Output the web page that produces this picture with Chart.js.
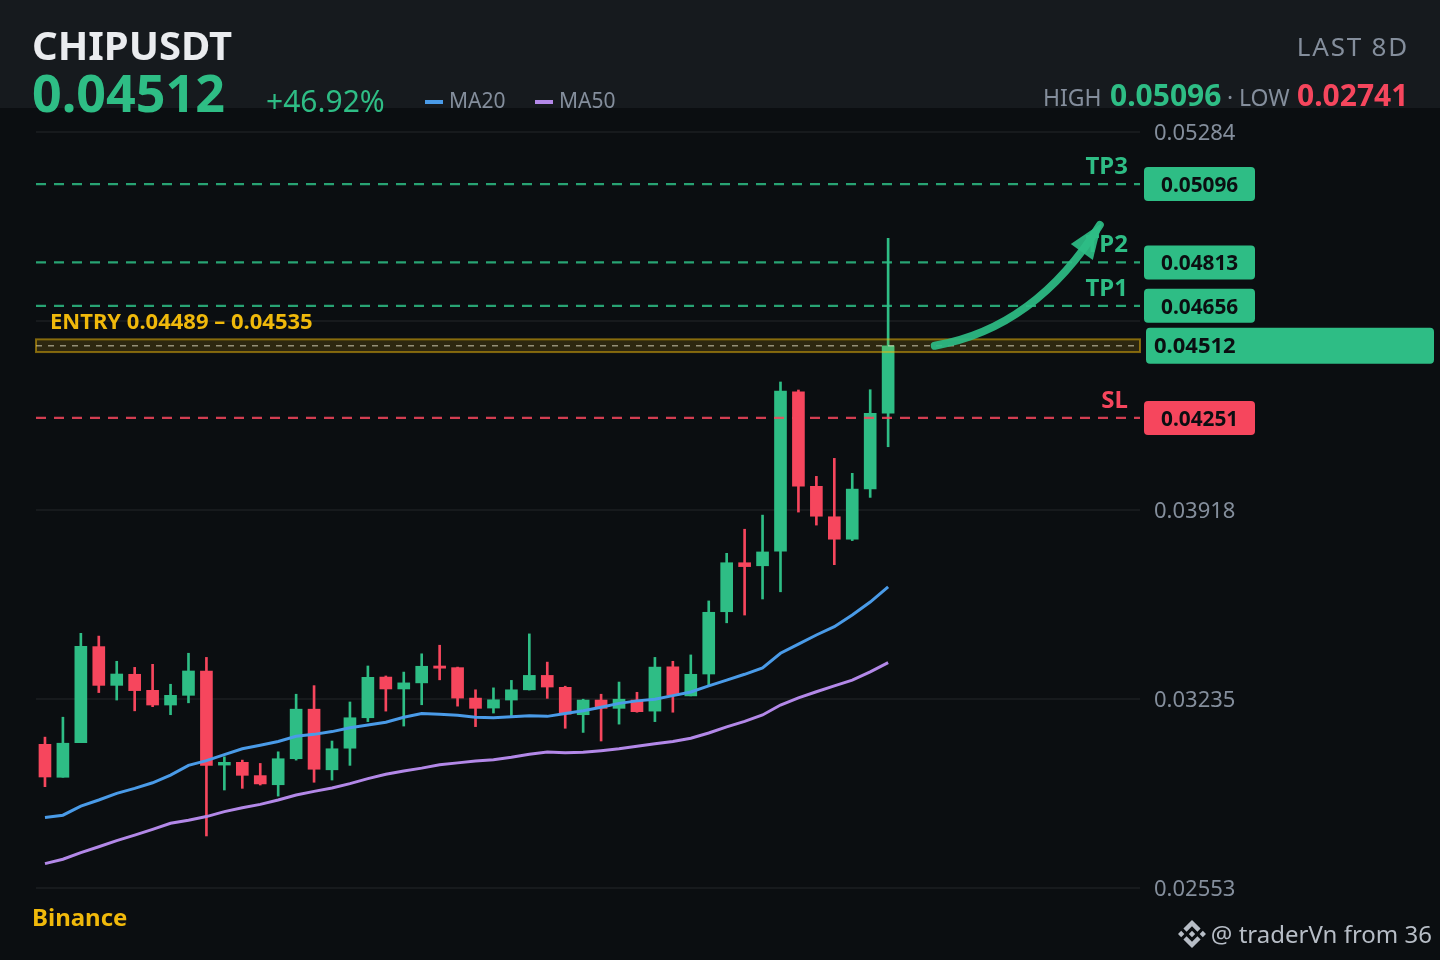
<!DOCTYPE html>
<html>
<head>
<meta charset="utf-8">
<title>CHIPUSDT</title>
<script src="https://cdn.jsdelivr.net/npm/chart.js@4"></script>
<style>
    html, body { margin: 0; padding: 0; background: #0b0e11; }
    body { width: 1440px; height: 960px; position: relative; overflow: hidden; font-family: "Noto Sans", sans-serif; }
    #band { position: absolute; left: 0; top: 0; width: 1440px; height: 108px; background: #161a1e; }
    #myChart { position: absolute; left: 0; top: 0; }
    .t { position: absolute; line-height: 1; white-space: nowrap; }
    .grey { color: #848e9c; }
    .green { color: #2ebd85; }
    .red { color: #f6465d; }
    .bold { font-weight: 700; }
    .swatch { position: absolute; width: 18px; height: 4px; }
</style>
</head>
<body>
<div id="band"></div>
<canvas id="myChart" width="1440" height="960"></canvas>

<div class="t bold" style="left:32px;top:25px;font-size:40px;color:#eaecef">CHIPUSDT</div>
<div class="t bold green" style="left:32px;top:66px;font-size:52px">0.04512</div>
<div class="t green" style="left:266px;top:86px;font-size:30px">+46.92%</div>
<div class="swatch" style="left:425px;top:100px;background:#4a9be8"></div>
<div class="t grey" style="left:449px;top:90px;font-size:21px">MA20</div>
<div class="swatch" style="left:535px;top:100px;background:#b388e8"></div>
<div class="t grey" style="left:559px;top:90px;font-size:21px">MA50</div>
<div class="t grey" style="right:31px;top:33px;font-size:26px;letter-spacing:1.8px">LAST 8D</div>
<div class="t grey" style="left:1043px;top:86px;font-size:23px">HIGH</div>
<div class="t green bold" style="left:1110px;top:80px;font-size:30px">0.05096</div>
<div class="t grey" style="left:1227px;top:86px;font-size:23px">·</div>
<div class="t grey" style="left:1239px;top:86px;font-size:23px">LOW</div>
<div class="t red bold" style="left:1297px;top:80px;font-size:30px">0.02741</div>
<div class="t bold" style="left:32px;top:905px;font-size:24px;color:#f0b90b">Binance</div>
<svg class="t" style="left:1178px;top:920px" width="28" height="28" viewBox="0 0 32 32" fill="#b7bdc6">
    <path d="M9.79 13.45 16 7.24l6.21 6.21 3.61-3.61L16 .03 6.18 9.84zM.03 16l3.61-3.61L7.25 16l-3.61 3.61zm9.76 2.55L16 24.76l6.21-6.21 3.61 3.61L16 31.97l-9.82-9.82zM24.75 16l3.61-3.61L31.97 16l-3.61 3.61zM19.66 16 16 12.34 13.3 15.05l-.31.31-.64.64L16 19.66z"/>
</svg>
<div class="t" style="right:8px;top:922px;font-size:24px;color:#b7bdc6">@ traderVn from 36</div>

<script>
// candles, one per 4h
var opens = [0.03072, 0.02953, 0.03078, 0.03425, 0.03285, 0.03325, 0.03267, 0.03214, 0.03249, 0.03337, 0.02997, 0.03007,
    0.02959, 0.02926, 0.03020, 0.03199, 0.02980, 0.03058, 0.03168, 0.03315, 0.03272, 0.03294, 0.03355, 0.03349,
    0.03239, 0.03203, 0.03232, 0.03269, 0.03321, 0.03278, 0.03179, 0.03232, 0.03202, 0.03232, 0.03192, 0.03352,
    0.03247, 0.03326, 0.03551, 0.03728, 0.03717, 0.03770, 0.04345, 0.04004, 0.03894, 0.03813, 0.03995, 0.04268];
var closes = [0.02954, 0.03076, 0.03426, 0.03285, 0.03326, 0.03266, 0.03214, 0.03249, 0.03337, 0.02996, 0.03007, 0.02960,
    0.02929, 0.03020, 0.03199, 0.02982, 0.03056, 0.03168, 0.03314, 0.03272, 0.03294, 0.03354, 0.03347, 0.03239,
    0.03202, 0.03233, 0.03269, 0.03321, 0.03279, 0.03181, 0.03232, 0.03202, 0.03235, 0.03190, 0.03351, 0.03249,
    0.03325, 0.03549, 0.03728, 0.03714, 0.03767, 0.04348, 0.04005, 0.03896, 0.03813, 0.03994, 0.04268, 0.04512];
var highs = [0.03098, 0.03170, 0.03473, 0.03463, 0.03372, 0.03350, 0.03361, 0.03289, 0.03401, 0.03386, 0.03027, 0.03015,
    0.03003, 0.03045, 0.03253, 0.03284, 0.03084, 0.03225, 0.03355, 0.03319, 0.03333, 0.03399, 0.03430, 0.03351,
    0.03269, 0.03276, 0.03303, 0.03471, 0.03369, 0.03282, 0.03235, 0.03253, 0.03297, 0.03260, 0.03386, 0.03372,
    0.03395, 0.03590, 0.03762, 0.03849, 0.03900, 0.04381, 0.04352, 0.04040, 0.04105, 0.04051, 0.04353, 0.04900];
var lows = [0.02919, 0.02953, 0.03078, 0.03259, 0.03232, 0.03193, 0.03208, 0.03179, 0.03222, 0.02741, 0.02907, 0.02913,
    0.02925, 0.02885, 0.03015, 0.02935, 0.02943, 0.02996, 0.03154, 0.03192, 0.03138, 0.03215, 0.03305, 0.03210,
    0.03136, 0.03185, 0.03172, 0.03268, 0.03238, 0.03130, 0.03115, 0.03084, 0.03145, 0.03188, 0.03154, 0.03188,
    0.03247, 0.03286, 0.03511, 0.03539, 0.03597, 0.03623, 0.03911, 0.03864, 0.03721, 0.03808, 0.03964, 0.04147];

var ma20 = [0.02808, 0.02816, 0.02849, 0.02871, 0.02895, 0.02913, 0.02933, 0.02961, 0.02996, 0.03013, 0.03035, 0.03056,
    0.03069, 0.03082, 0.03101, 0.03108, 0.03118, 0.03132, 0.03142, 0.03152, 0.03170, 0.03183, 0.03181, 0.03177,
    0.03170, 0.03168, 0.03172, 0.03175, 0.03173, 0.03183, 0.03193, 0.03206, 0.03220, 0.03229, 0.03235, 0.03248,
    0.03261, 0.03283, 0.03304, 0.03325, 0.03348, 0.03401, 0.03434, 0.03467, 0.03497, 0.03539, 0.03586, 0.03641];
var ma50 = [0.02641, 0.02657, 0.02681, 0.02702, 0.02724, 0.02744, 0.02765, 0.02787, 0.02798, 0.02811, 0.02829, 0.02843,
    0.02855, 0.02871, 0.02889, 0.02902, 0.02914, 0.02930, 0.02948, 0.02964, 0.02976, 0.02986, 0.02998, 0.03005,
    0.03012, 0.03016, 0.03025, 0.03036, 0.03044, 0.03042, 0.03043, 0.03049, 0.03056, 0.03065, 0.03074, 0.03082,
    0.03094, 0.03113, 0.03135, 0.03155, 0.03178, 0.03214, 0.03240, 0.03262, 0.03283, 0.03304, 0.03334, 0.03367];

var tickValues = [0.05284, 0.04601, 0.03918, 0.03235, 0.02553];
var levelNames = ['TP3', 'TP2', 'TP1', 'SL'];
var levelValues = [0.05096, 0.04813, 0.04656, 0.04251];
var lastPrice = 0.04512;
var entryLow = 0.04489;
var entryHigh = 0.04535;

var GREEN = '#2ebd85';
var RED = '#f6465d';
var FONT = '"Noto Sans", sans-serif';
var X_MIN = -0.5;
var X_MAX = 61.04;

function points(values) {
    return values.map(function (v, i) { return { x: i, y: v }; });
}
function hline(value) {
    return [{ x: X_MIN, y: value }, { x: X_MAX, y: value }];
}

var candleColors = opens.map(function (o, i) { return closes[i] >= o ? GREEN : RED; });

var datasets = [{
    type: 'bar',
    data: opens.map(function (o, i) { return { x: i, y: [lows[i], highs[i]] }; }),
    backgroundColor: candleColors,
    barThickness: 2,
    order: 4
}, {
    type: 'bar',
    data: opens.map(function (o, i) { return { x: i, y: [o, closes[i]] }; }),
    backgroundColor: candleColors,
    barThickness: 12,
    order: 3
}, {
    type: 'line',
    data: points(ma20),
    borderColor: '#4a9be8',
    borderWidth: 3,
    pointRadius: 0,
    order: 2
}, {
    type: 'line',
    data: points(ma50),
    borderColor: '#b388e8',
    borderWidth: 3,
    pointRadius: 0,
    order: 2
}];

levelValues.forEach(function (v, i) {
    datasets.push({
        type: 'line',
        data: hline(v),
        borderColor: levelNames[i] === 'SL' ? 'rgba(246,70,93,0.85)' : 'rgba(46,189,133,0.85)',
        borderWidth: 2.2,
        borderDash: [10, 8],
        pointRadius: 0,
        order: 1
    });
});

datasets.push({
    type: 'line',
    data: hline(lastPrice),
    borderColor: 'rgba(234,236,239,0.55)',
    borderWidth: 1.5,
    borderDash: [6, 6],
    pointRadius: 0,
    order: 1
});

function priceTag(ctx, x, y, w, h, fill, label, textX, size, dy) {
    ctx.fillStyle = fill;
    ctx.beginPath();
    ctx.roundRect(x, y - h / 2, w, h, 4);
    ctx.fill();
    ctx.fillStyle = '#0b0e11';
    ctx.font = '700 ' + size + 'px ' + FONT;
    ctx.textAlign = 'left';
    ctx.textBaseline = 'middle';
    ctx.fillText(label, textX, y + dy);
}

// entry band, level labels, price tags and the arrow
var overlay = {
    id: 'overlay',
    afterDatasetsDraw: function (chart) {
        var ctx = chart.ctx;
        var xs = chart.scales.x;
        var ys = chart.scales.y;
        var area = chart.chartArea;
        ctx.save();

        var top = ys.getPixelForValue(entryHigh);
        var bottom = ys.getPixelForValue(entryLow);
        ctx.fillStyle = 'rgba(240,185,11,0.15)';
        ctx.fillRect(area.left, top, area.right - area.left, bottom - top);
        ctx.strokeStyle = 'rgba(240,185,11,0.5)';
        ctx.lineWidth = 2;
        ctx.strokeRect(area.left, top, area.right - area.left, bottom - top);

        ctx.font = '700 22px ' + FONT;
        ctx.fillStyle = '#f0b90b';
        ctx.textAlign = 'left';
        ctx.textBaseline = 'middle';
        ctx.fillText('ENTRY ' + entryLow.toFixed(5) + ' – ' + entryHigh.toFixed(5), 50, top - 17);

        levelValues.forEach(function (v, i) {
            var isSl = levelNames[i] === 'SL';
            var y = ys.getPixelForValue(v);
            ctx.font = '700 24px ' + FONT;
            ctx.fillStyle = isSl ? RED : GREEN;
            ctx.textAlign = 'right';
            ctx.textBaseline = 'middle';
            ctx.fillText(levelNames[i], 1128, y - 17);
            priceTag(ctx, 1144, y, 111, 34, isSl ? RED : GREEN, v.toFixed(5), 1161, 20.8, 2);
        });
        priceTag(ctx, 1146, ys.getPixelForValue(lastPrice), 288, 36, GREEN, lastPrice.toFixed(5), 1154, 22, 1);

        // arrow, anchored to chart values
        var x0 = xs.getPixelForValue(49.6), y0 = ys.getPixelForValue(lastPrice);
        var cx = xs.getPixelForValue(55.24), cy = ys.getPixelForValue(0.04576);
        var x1 = xs.getPixelForValue(58.8), y1 = ys.getPixelForValue(0.04948);
        ctx.globalAlpha = 0.92;
        ctx.strokeStyle = GREEN;
        ctx.fillStyle = GREEN;
        ctx.lineWidth = 8;
        ctx.lineCap = 'round';
        ctx.beginPath();
        ctx.moveTo(x0, y0);
        ctx.quadraticCurveTo(cx, cy, x1, y1);
        ctx.stroke();
        ctx.beginPath();
        ctx.moveTo(x1 + 2, y1 - 2);
        ctx.lineTo(x1 - 29, y1 + 19);
        ctx.lineTo(x1 - 7, y1 + 35);
        ctx.closePath();
        ctx.fill();
        ctx.restore();
    }
};

var chart = new Chart(document.getElementById('myChart').getContext('2d'), {
    data: { datasets: datasets },
    options: {
        responsive: false,
        animation: false,
        layout: { padding: { left: 36, top: 132, bottom: 72, right: 0 } },
        plugins: { legend: { display: false }, tooltip: { enabled: false } },
        datasets: { bar: { grouped: false, borderWidth: 0 } },
        scales: {
            x: { type: 'linear', display: false, offset: false, min: X_MIN, max: X_MAX },
            y: {
                position: 'right',
                min: 0.02553,
                max: 0.05284,
                afterBuildTicks: function (scale) {
                    scale.ticks = tickValues.map(function (v) { return { value: v }; });
                },
                afterFit: function (scale) { scale.width = 300; },
                border: { display: false },
                grid: { color: 'rgba(255,255,255,0.05)', lineWidth: 2, drawTicks: false },
                ticks: {
                    padding: 14,
                    labelOffset: 2,
                    color: '#848e9c',
                    font: { family: FONT, size: 22 },
                    callback: function (v) { return v === 0.04601 ? '' : v.toFixed(5); }
                }
            }
        }
    },
    plugins: [overlay]
});
</script>
</body>
</html>
